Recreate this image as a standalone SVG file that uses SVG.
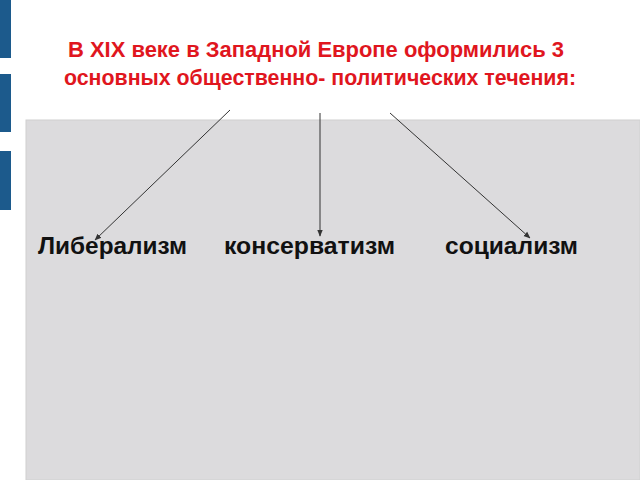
<svg xmlns="http://www.w3.org/2000/svg" width="640" height="480" viewBox="0 0 640 480">
<defs>
<style>
.bar{fill:#1c5a8c}
.title{font-family:"Liberation Sans",Arial,sans-serif;font-weight:bold;font-size:22px;fill:#e0161e;text-anchor:middle}
.lbl{font-family:"Liberation Sans",Arial,sans-serif;font-weight:bold;font-size:24px;fill:#111}
.con{stroke:#333;stroke-width:1;fill:none;marker-end:url(#ah)}
</style>
<marker id="ah" viewBox="0 0 10 10" refX="9" refY="5" markerWidth="7" markerHeight="7" orient="auto" markerUnits="userSpaceOnUse">
<path d="M0,1 L10,5 L0,9 z" fill="#333"/>
</marker>
</defs>
<rect width="640" height="480" fill="#ffffff"/>
<rect class="bar" x="0" y="0" width="11" height="58"/>
<rect class="bar" x="0" y="74" width="11" height="58"/>
<rect class="bar" x="0" y="151" width="11" height="59"/>
<rect x="26" y="120" width="614" height="360" fill="#dcdbdd" stroke="#d0d0d0" stroke-width="1"/>
<g id="title">
<text class="title" x="316" y="57" textLength="496" lengthAdjust="spacingAndGlyphs">В XIX веке в Западной Европе оформились 3</text>
<text class="title" x="320" y="85" textLength="512" lengthAdjust="spacingAndGlyphs">основных общественно- политических течения:</text>
</g>
<g id="connectors">
<line class="con" x1="230" y1="110" x2="95" y2="240"/>
<line class="con" x1="320" y1="113" x2="320" y2="236"/>
<line class="con" x1="390" y1="113" x2="530" y2="238"/>
</g>
<g id="liberalism"><text class="lbl" x="38" y="254" textLength="149" lengthAdjust="spacingAndGlyphs">Либерализм</text></g>
<g id="conservatism"><text class="lbl" x="224" y="254" textLength="171" lengthAdjust="spacingAndGlyphs">консерватизм</text></g>
<g id="socialism"><text class="lbl" x="445" y="254" textLength="133" lengthAdjust="spacingAndGlyphs">социализм</text></g>
</svg>
